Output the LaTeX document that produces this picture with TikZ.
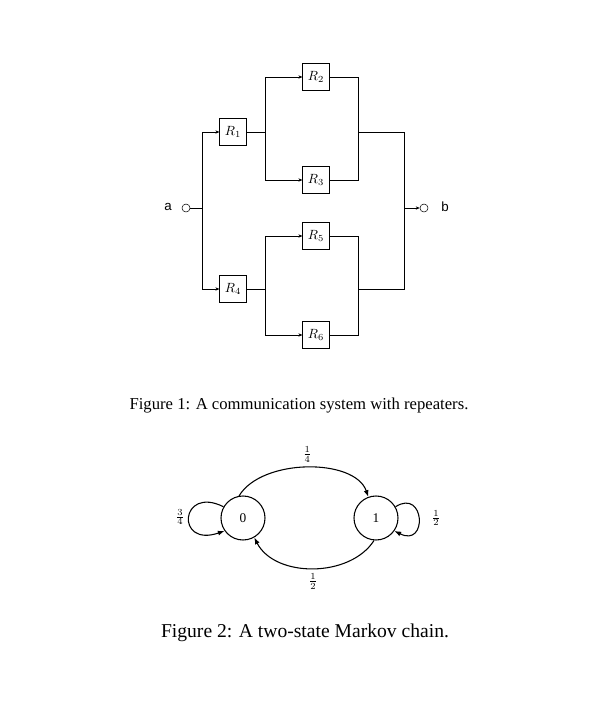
\documentclass[tikz,border=0pt]{standalone}
\usepackage{fontspec}
\setmainfont{Liberation Serif}
\newfontfamily\sansf{Liberation Sans}
\usetikzlibrary{arrows.meta}
\begin{document}
\begin{tikzpicture}[x=0.75pt,y=-0.75pt,
    rep/.style={draw, minimum size=20pt, inner sep=0pt, font=\normalsize},
    term/.style={draw, circle, inner sep=0pt, minimum size=6pt},
    wire/.style={-{Stealth[length=3pt,width=2.5pt]}},
    state/.style={draw, circle, thick, minimum size=33pt, inner sep=0pt, font=\normalsize},
    edge/.style={thick, -{Latex[length=5pt]}},
    frac/.style={font=\normalsize}]
    \useasboundingbox (0,0) rectangle (611,704);
    %circuit:
    \node[term] (a) at (186,208) {};
    \node[term] (b) at (424,208) {};
    \node[font=\sansf\normalsize] at (168,207) {a};
    \node[font=\sansf\normalsize] at (445,207) {b};
    \foreach \x/\y/\n/\l in {233/132/r1/1,233/289/r4/4,316/77/r2/2,316/180/r3/3,316/236/r5/5,316/335/r6/6}{
        \node[rep] (\n) at (\x,\y) {$R_{\l}$};
    }
    \coordinate (ja) at (202,208);
    \coordinate (jb) at (404,208);
    \draw (a) -- (ja);
    \draw[wire] (ja) |- (r1);
    \draw[wire] (ja) |- (r4);
    \foreach \m/\p/\q in {r1/r2/r3,r4/r5/r6}{
        \draw (\m.east) -- (265,0 |- \m.east) coordinate (s\m);
        \draw[wire] (s\m) |- (\p);
        \draw[wire] (s\m) |- (\q);
        \draw (\p.east) -| (358,0 |- \m.east) coordinate (t\m);
        \draw (\q.east) -| (t\m);
        \draw (t\m) -| (jb);
    }
    \draw[wire] (jb) -- (b);
    \node at (299,406) {\fontsize{12.5}{14}\selectfont Figure 1: A communication system with repeaters.};
    %markov chain:
    \node[state] (s0) at (243,518) {0};
    \node[state] (s1) at (376,518) {1};
    \draw[edge] (s0.100) .. controls (262,458) and (355,458) .. node[frac,above]{$\frac{1}{4}$} (s1.110);
    \draw[edge] (s1.-95) .. controls (350,578) and (275,578) .. node[frac,below]{$\frac{1}{2}$} (s0.-60);
    \draw[edge] (s0.150) .. controls (180,485) and (175,548) .. (s0.-145);
    \draw[edge] (s1.30) .. controls (425,488) and (428,548) .. (s1.-35);
    \node[frac] at (180,517) {$\frac{3}{4}$};
    \node[frac] at (436,518) {$\frac{1}{2}$};
    \node at (305,633) {\fontsize{14.7}{16}\selectfont Figure 2: A two-state Markov chain.};
\end{tikzpicture}
\end{document}
